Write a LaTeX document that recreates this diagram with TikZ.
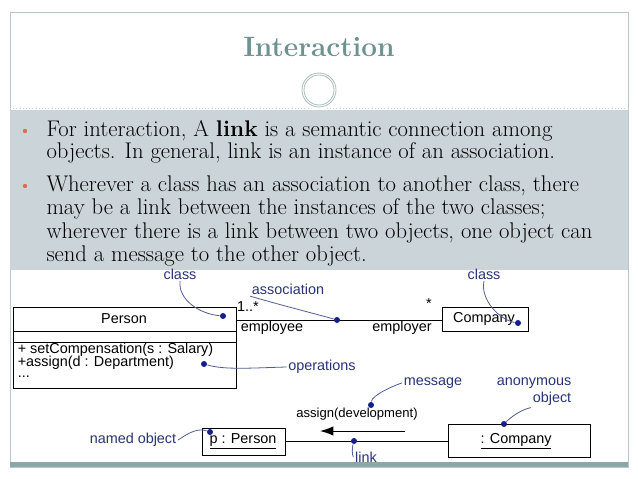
\documentclass[tikz,border=0pt]{standalone}
\usepackage{fontspec}
\setsansfont{Liberation Sans}
\usetikzlibrary{arrows.meta}
\definecolor{slideteal}{RGB}{110,145,145}
\definecolor{bandgray}{RGB}{203,212,217}
\definecolor{dotblue}{RGB}{20,30,140}
\definecolor{labblue}{RGB}{40,50,120}
\definecolor{bulletred}{RGB}{220,110,80}
\tikzset{every picture/.style={line width=0.75pt}}
\tikzset{
  body/.style={anchor=west,inner sep=0pt,font=\fontsize{17}{19}\selectfont},
  uml/.style={inner sep=1pt,font=\sffamily\fontsize{10.8}{12}\selectfont},
  lab/.style={uml,text=labblue},
  dot/.style={circle,fill=dotblue,inner sep=0pt,minimum size=4.5pt},
  callout/.style={draw=labblue!80,line width=0.6pt},
}
\begin{document}
\begin{tikzpicture}[x=0.75pt,y=0.75pt,yscale=-1,xscale=1]
	\useasboundingbox (0,0) rectangle (638,478);
	
	%Slide frame
	\draw [color=slideteal!50,line width=0.5pt] (10,12) rectangle (628,467);
	\fill [bandgray] (10,110) rectangle (628,270);
	\fill [slideteal!80] (10,462) rectangle (628,467);
	\draw [color=slideteal!40,line width=0.4pt,dotted] (10,108) -- (628,108);
	\fill [white] (319,90) circle (20);
	\draw [color=slideteal!60,line width=0.6pt] (319,90) circle (17) (319,90) circle (15);
	
	% Title
	\node (title) at (319,47) [font=\bfseries\fontsize{21}{24}\selectfont,text=slideteal] {Interaction};
	
	% Bullets
	\fill [bulletred] (25,131) circle (2.2) (25,186) circle (2.2);
	\node (b1) at (46,131) [body] {For interaction, A \textbf{link} is a semantic connection among};
	\node (b2) at (46,153) [body] {objects. In general, link is an instance of an association.};
	\node (b3) at (46,186) [body] {Wherever a class has an association to another class, there};
	\node (b4) at (46,209) [body] {may be a link between the instances of the two classes;};
	\node (b5) at (46,233) [body] {wherever there is a link between two objects, one object can};
	\node (b6) at (46,256) [body] {send a message to the other object.};
	
	% Person class
	\draw (13,307) rectangle (236,388);
	\draw (13,331) -- (236,331) (13,342) -- (236,342);
	\node (person) at (124,319) [uml] {Person};
	\node (op1) at (16,350) [uml,anchor=west] {+ setCompensation(s : Salary)};
	\node (op2) at (16,363) [uml,anchor=west] {+assign(d : Department)};
	\node (op3) at (16,377) [uml,anchor=west] {...};
	
	% Company class
	\draw (442,307) rectangle (528,331);
	\node (company) at (484,319) [uml] {Company};
	\coordinate (pe) at (236,320);
	\coordinate (ce) at (442,320);
	\draw (pe) -- (ce);
	\node (m1) at (248,307) [uml] {1..*};
	\node (m2) at (429,304) [uml] {*};
	\node (role1) at (272,328) [uml] {employee};
	\node (role2) at (402,328) [uml] {employer};
	
	% Callouts (top)
	\node (lclass1) at (180,274) [lab] {class};
	\node (lclass2) at (484,274) [lab] {class};
	\node (lassoc) at (288,289) [lab] {association};
	\node (lops) at (322,367) [lab] {operations};
	\node (d1) at (223,316) [dot] {};
	\node (d2) at (518,323) [dot] {};
	\node (d3) at (337,320) [dot] {};
	\node (d4) at (204,364) [dot] {};
	\draw [callout] (lclass1.south) .. controls (178,300) and (200,314) .. (d1);
	\draw [callout] (lclass2.south) .. controls (480,300) and (500,320) .. (d2);
	\draw [callout] (lassoc.south west) .. controls (280,305) and (320,315) .. (d3);
	\draw [callout] (d4) .. controls (225,370) and (250,368) .. (lops.west);
	
	% Objects
	\draw (202,428) rectangle (285,455);
	\node (pobj) at (243,441) [uml] {\underline{p : Person}};
	\draw (448,424) rectangle (590,457);
	\node (cobj) at (516,441) [uml] {\underline{: Company}};
	\coordinate (pl) at (285,441);
	\coordinate (cl) at (448,441);
	\draw (pl) -- (cl);
	\coordinate (mstart) at (405,431);
	\coordinate (mend) at (320,431);
	\draw [-{Latex[length=10pt,width=7pt]}] (mstart) -- (mend);
	\node (msg) at (357,414) [uml,font=\sffamily\fontsize{9.8}{11}\selectfont] {assign(development)};
	
	% Callouts (bottom)
	\node (lmsg) at (433,383) [lab] {message};
	\node (lanon) at (534,383) [lab] {anonymous};
	\node (lobj) at (552,399) [lab] {object};
	\node (lnamed) at (133,440) [lab] {named object};
	\node (llink) at (366,457) [lab] {link};
	\node (d5) at (371,405) [dot] {};
	\node (d6) at (504,424) [dot] {};
	\node (d7) at (210,432) [dot] {};
	\node (d8) at (354,441) [dot] {};
	\draw [callout] (lmsg.west) .. controls (395,385) and (372,395) .. (d5);
	\draw [callout] (lobj.south west) .. controls (520,410) and (510,418) .. (d6);
	\draw [callout] (lnamed.east) .. controls (190,432) and (198,428) .. (d7);
	\draw [callout] (llink.west) .. controls (352,455) and (352,448) .. (d8);
\end{tikzpicture}
\end{document}
